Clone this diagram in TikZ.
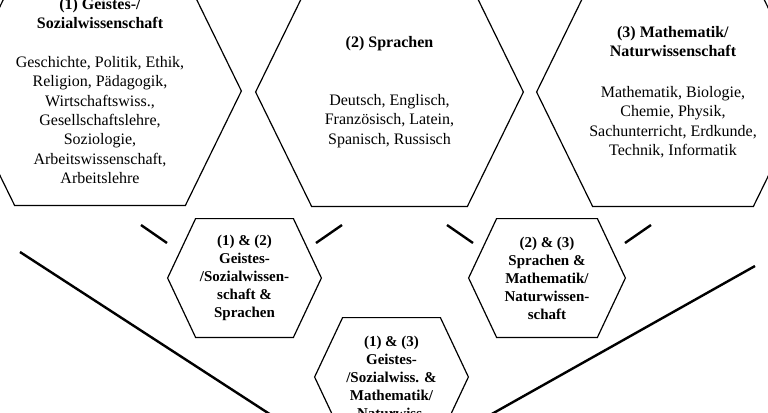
\documentclass[tikz,border=0pt]{standalone}
\usepackage{fontspec}
\setmainfont{Liberation Serif}
\begin{document}
\begin{tikzpicture}[
        x=0.5pt, y=-0.5pt,
        hexbig/.style={minimum height=114pt, inner sep=0pt, align=center,
          font=\fontsize{8}{9.65}\selectfont},
        hexsmall/.style={minimum height=59pt, inner sep=0pt, align=center,
          font=\fontsize{7.5}{9}\selectfont\bfseries},
        bar/.style={line width=1.2pt}
    ]
      \useasboundingbox (0,0) rectangle (768,413);
      \clip (0,0) rectangle (768,413);

      % Subject hexagons
      \node[hexbig, minimum width=141pt] (geist) at (100,91)
        {\textbf{(1) Geistes-/}\\\textbf{Sozialwissenschaft}\\[9.65pt]
         Geschichte, Politik, Ethik,\\Religion, Pädagogik,\\Wirtschaftswiss.,\\
         Gesellschaftslehre,\\Soziologie,\\Arbeitswissenschaft,\\Arbeitslehre};
      \node[hexbig, minimum width=133.5pt] (sprach) at (389.5,92)
        {\textbf{(2) Sprachen}\\[19.3pt]
         Deutsch, Englisch,\\Französisch, Latein,\\Spanisch, Russisch};
      \node[hexbig, minimum width=136pt] (mathe) at (673,92)
        {\textbf{(3) Mathematik/}\\\textbf{Naturwissenschaft}\\[11pt]
         Mathematik, Biologie,\\Chemie, Physik,\\Sachunterricht, Erdkunde,\\Technik, Informatik};

      % Overlap hexagons
      \node[hexsmall, minimum width=76.5pt] (gs) at (244.5,278)
        {(1) \& (2)\\Geistes-\\/Sozialwissen-\\schaft \&\\Sprachen};
      \node[hexsmall, minimum width=78pt] (sm) at (547,278)
        {(2) \& (3)\\Sprachen \&\\Mathematik/\\Naturwissen-\\schaft};
      \node[hexsmall, minimum width=76.5pt] (gm) at (391.5,377)
        {(1) \& (3)\\Geistes-\\/Sozialwiss. \&\\Mathematik/\\Naturwiss.};

      % Outlines
      \foreach \n/\o in {geist/28pt, sprach/28pt, mathe/28pt, gs/14pt, sm/14pt, gm/14pt}
        \draw[line width=0.6pt] (\n.west) -- ([xshift=\o]\n.north west)
          -- ([xshift=-\o]\n.north east) -- (\n.east)
          -- ([xshift=-\o]\n.south east) -- ([xshift=\o]\n.south west) -- cycle;

      % Short bars
      \coordinate (b1) at (141,225); \coordinate (b2) at (167,243);
      \coordinate (b3) at (316,243); \coordinate (b4) at (342,225);
      \coordinate (b5) at (447,225); \coordinate (b6) at (473,243);
      \coordinate (b7) at (625,243); \coordinate (b8) at (651,225);
      \foreach \a/\b in {b1/b2, b3/b4, b5/b6, b7/b8}
        \draw[bar] (\a) -- (\b);

      % Long lines
      \coordinate (l1) at (20,252);  \coordinate (l2) at (285,424);
      \coordinate (r1) at (755,266); \coordinate (r2) at (474,424);
      \draw[bar] (l1) -- (l2);
      \draw[bar] (r1) -- (r2);
    \end{tikzpicture}
\end{document}
